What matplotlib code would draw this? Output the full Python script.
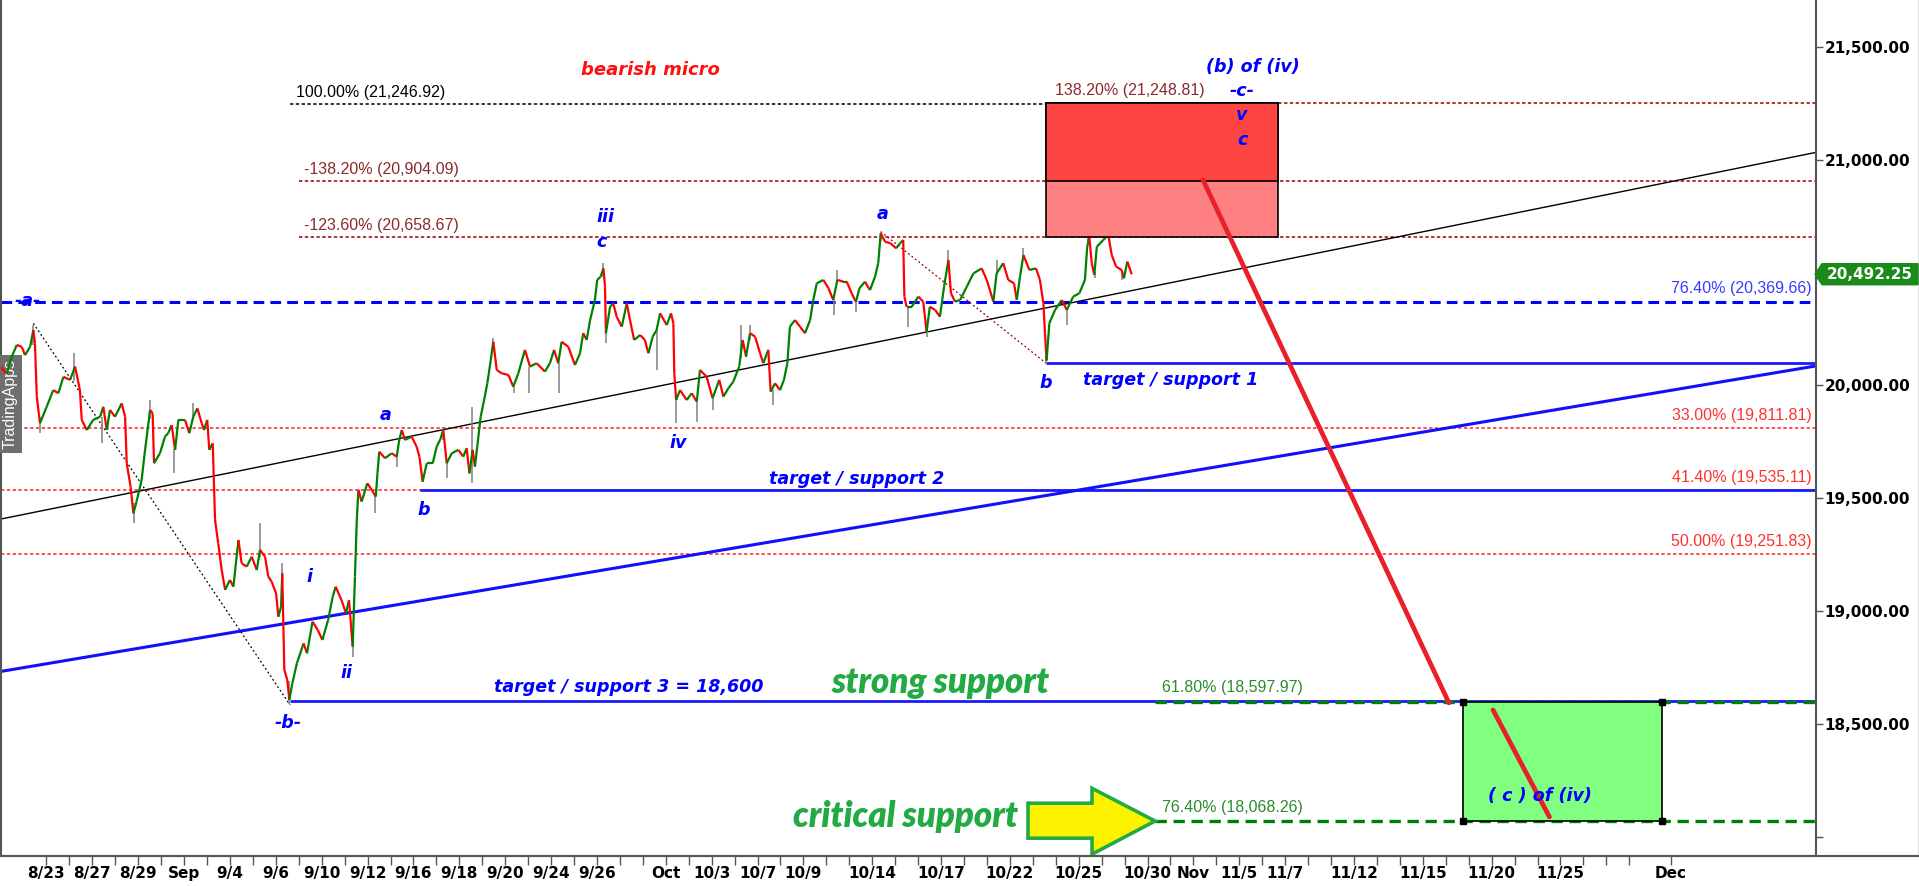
import numpy as np
import matplotlib
matplotlib.use("Agg")
import matplotlib.pyplot as plt
from matplotlib.patches import Polygon, Rectangle
from matplotlib.collections import LineCollection
from matplotlib.lines import Line2D

plt.rcParams['font.family'] = ['Liberation Sans', 'DejaVu Sans']

# price path; x is the trading-day index (0 = 8/23)
path_day = [-2.02, -1.73, -1.51, -1.29, -1.08, -0.93, -0.71, -0.57, -0.50, -0.42,
            -0.28, 0.01, 0.30, 0.52, 0.74, 1.03, 1.25, 1.46, 1.54, 1.76,
            2.04, 2.34, 2.48, 2.63, 2.77, 2.99, 3.28, 3.43, 3.50, 3.67,
            3.79, 3.93, 4.15, 4.30, 4.52, 4.63, 4.69, 4.95, 5.17, 5.31,
            5.46, 5.61, 5.75, 6.04, 6.23, 6.40, 6.58, 6.77, 6.87, 7.01,
            7.10, 7.25, 7.35, 7.49, 7.64, 7.79, 8.00, 8.15, 8.37, 8.51,
            8.73, 8.95, 9.17, 9.31, 9.53, 9.67, 9.82, 10.01, 10.11, 10.23,
            10.28, 10.37, 10.50, 10.59, 10.72, 10.92, 11.21, 11.36, 11.60, 11.83,
            12.03, 12.28, 12.48, 12.61, 12.86, 13.06, 13.19, 13.35, 13.45, 13.53,
            13.60, 13.74, 13.99, 14.18, 14.36, 14.43, 14.51, 14.76, 15.05, 15.27,
            15.38, 15.49, 15.63, 15.92, 16.14, 16.26, 16.40, 16.58, 16.84, 17.01,
            17.16, 17.30, 17.45, 17.67, 17.96, 18.17, 18.32, 18.44, 18.58, 18.68,
            18.78, 18.93, 19.08, 19.22, 19.37, 19.48, 19.63, 19.85, 20.14, 20.35,
            20.57, 20.86, 21.08, 21.37, 21.73, 21.95, 22.13, 22.31, 22.46, 22.75,
            23.04, 23.26, 23.40, 23.55, 23.70, 23.91, 24.01, 24.16, 24.28, 24.35,
            24.39, 24.57, 24.71, 24.86, 25.08, 25.30, 25.44, 25.62, 25.88, 26.09,
            26.24, 26.43, 26.60, 26.75, 27.04, 27.23, 27.33, 27.37, 27.45, 27.62,
            27.91, 28.13, 28.35, 28.49, 28.78, 29.04, 29.33, 29.51, 29.73, 29.94,
            30.20, 30.35, 30.50, 30.67, 30.89, 31.11, 31.25, 31.47, 31.57, 31.76,
            31.98, 32.15, 32.30, 32.41, 32.63, 32.85, 33.07, 33.29, 33.43, 33.58,
            33.87, 34.09, 34.30, 34.48, 34.74, 34.89, 35.10, 35.29, 35.44, 35.68,
            35.90, 36.12, 36.26, 36.37, 36.56, 36.80, 37.04, 37.21, 37.35, 37.40,
            37.50, 37.72, 38.01, 38.22, 38.37, 38.51, 38.74, 38.95, 39.13, 39.32,
            39.43, 39.61, 39.83, 40.12, 40.41, 40.77, 40.99, 41.28, 41.42, 41.71,
            41.93, 42.18, 42.30, 42.44, 42.59, 42.85, 43.14, 43.31, 43.46, 43.53,
            43.60, 43.72, 43.97, 44.26, 44.48, 44.76, 45.03, 45.27, 45.37, 45.46,
            45.57, 45.68, 45.79, 46.07, 46.29, 46.44, 46.63, 46.87, 46.97, 47.12,
            47.31]
path_px = [20083, 20053, 20127, 20179, 20171, 20134, 20171, 20245, 20186, 19950,
           19832, 19905, 19979, 19965, 20038, 20024, 20083, 19979, 19847, 19802,
           19847, 19861, 19905, 19802, 19891, 19861, 19920, 19861, 19655, 19551,
           19433, 19485, 19581, 19714, 19891, 19876, 19655, 19699, 19773, 19788,
           19824, 19714, 19847, 19847, 19788, 19861, 19898, 19832, 19802, 19847,
           19714, 19743, 19404, 19300, 19182, 19094, 19138, 19108, 19315, 19212,
           19197, 19241, 19182, 19271, 19241, 19153, 19130, 19079, 18975, 19020,
           19167, 18739, 18695, 18607, 18680, 18769, 18857, 18813, 18953, 18916,
           18872, 18961, 19064, 19108, 19049, 18990, 19049, 18843, 19153, 19404,
           19537, 19485, 19566, 19537, 19507, 19610, 19706, 19677, 19699, 19684,
           19758, 19802, 19758, 19773, 19728, 19684, 19573, 19655, 19655, 19728,
           19758, 19802, 19655, 19699, 19714, 19684, 19721, 19610, 19714, 19640,
           19728, 19861, 19935, 20009, 20112, 20193, 20068, 20053, 20046, 19994,
           20053, 20157, 20083, 20098, 20061, 20098, 20157, 20098, 20193, 20171,
           20090, 20142, 20231, 20201, 20289, 20378, 20467, 20481, 20518, 20437,
           20231, 20348, 20363, 20304, 20260, 20363, 20289, 20201, 20223, 20201,
           20142, 20216, 20245, 20319, 20267, 20319, 20275, 20053, 19935, 19979,
           19935, 19965, 19928, 20068, 20038, 19943, 20024, 19950, 19987, 20016,
           20083, 20201, 20127, 20231, 20216, 20142, 20098, 20157, 19972, 20009,
           19979, 20024, 20098, 20260, 20289, 20260, 20231, 20289, 20378, 20452,
           20467, 20430, 20378, 20467, 20459, 20459, 20408, 20370, 20430, 20459,
           20422, 20481, 20541, 20674, 20636, 20629, 20607, 20629, 20644, 20393,
           20348, 20348, 20393, 20371, 20238, 20348, 20334, 20304, 20437, 20555,
           20408, 20371, 20378, 20437, 20496, 20518, 20467, 20371, 20496, 20541,
           20467, 20452, 20378, 20481, 20577, 20511, 20518, 20467, 20363, 20231,
           20110, 20275, 20334, 20378, 20334, 20393, 20408, 20467, 20614, 20658,
           20541, 20489, 20614, 20644, 20666, 20577, 20526, 20511, 20474, 20548,
           20492]

# gray wicks: day, low, high
wick_day = [-0.57, -0.30, 1.20, 2.41, 3.80, 4.50, 5.56, 6.40, 9.31, 10.26,
            10.59, 13.35, 14.32, 15.27, 17.30, 17.45, 18.54, 19.48, 20.40, 21.05,
            22.35, 24.28, 24.39, 26.60, 27.45, 28.35, 29.04, 30.30, 30.67, 31.69,
            34.33, 34.48, 35.29, 36.37, 37.57, 38.40, 39.32, 41.42, 42.59, 43.58,
            44.48, 45.42, 45.70, 46.90]
wick_lo = [20180, 19788, 20020, 19743, 19389, 19850, 19610, 19860, 19240, 19020,
           18590, 18798, 19433, 19640, 19760, 19588, 19566, 20150, 19965, 19965,
           19965, 20480, 20186, 20068, 19832, 19839, 19891, 20120, 20200, 19913,
           20312, 20460, 20326, 20640, 20260, 20216, 20550, 20490, 20570, 20098,
           20267, 20640, 20474, 20467]
wick_hi = [20267, 19860, 20142, 19860, 19480, 19935, 19720, 19920, 19389, 19212,
           18690, 18900, 19510, 19690, 19816, 19660, 19905, 20208, 20000, 20080,
           20100, 20541, 20240, 20245, 19940, 19930, 19945, 20267, 20267, 19980,
           20380, 20511, 20370, 20681, 20350, 20240, 20600, 20555, 20607, 20140,
           20334, 20710, 20500, 20511]

last_price = 20492.25

# date axis: tick at every trading day, labels on some
tick_days = list(range(0, 70)) + [70.8]
tick_labels = {0: '8/23', 2: '8/27', 4: '8/29', 6: 'Sep', 8: '9/4', 10: '9/6',
               12: '9/10', 14: '9/12', 16: '9/16', 18: '9/18', 20: '9/20',
               22: '9/24', 24: '9/26', 27: 'Oct', 29: '10/3', 31: '10/7',
               33: '10/9', 36: '10/14', 39: '10/17', 42: '10/22', 45: '10/25',
               48: '10/30', 50: 'Nov', 52: '11/5', 54: '11/7', 57: '11/12',
               60: '11/15', 63: '11/20', 66: '11/25', 70.8: 'Dec'}
price_ticks = [18000, 18500, 19000, 19500, 20000, 20500, 21000, 21500]

# fibonacci levels
fib_upper = [(21246.92, '100.00% (21,246.92)')]
fib_ext = [(20904.09, '-138.20% (20,904.09)'), (20658.67, '-123.60% (20,658.67)')]
fib_box_top = (21248.81, '138.20% (21,248.81)')
fib_blue = (20369.66, '76.40% (20,369.66)')
fib_red = [(19811.81, '33.00% (19,811.81)'), (19535.11, '41.40% (19,535.11)'),
           (19251.83, '50.00% (19,251.83)')]
fib_green = [(18597.97, '61.80% (18,597.97)'), (18068.26, '76.40% (18,068.26)')]

support1 = 20098
support2 = 19535
support3 = 18600

# trend lines (day, price) at both chart edges
black_tl = ([-2.02, 77.14], [19407, 21032])
blue_tl = ([-2.02, 77.14], [18732, 20086])

XMIN, XMAX = -1.98, 77.14
YMIN, YMAX = 17915, 21707

BLUE = '#0000ff'
DRED = '#990000'
RED = '#ff2222'
GREEN = '#008000'
LGREEN = '#22aa44'

fig = plt.figure(figsize=(19.19, 8.86), dpi=100)
ax = fig.add_axes([1 / 1919, 30 / 886, 1815 / 1919, 856 / 886])
ax.set_xlim(XMIN, XMAX)
ax.set_ylim(YMIN, YMAX)

dot = (0, (2.2, 1.6))

# horizontal fib lines
ax.hlines(fib_upper[0][0], 10.62, 43.57, color='black', lw=1.1, linestyles=[dot])
ax.hlines(fib_box_top[0], 43.57, XMAX, color=DRED, lw=1.1, linestyles=[dot])
for v, _ in fib_ext:
    ax.hlines(v, 11.0, XMAX, color=DRED, lw=1.1, linestyles=[dot])
for v, _ in fib_red:
    ax.hlines(v, XMIN, XMAX, color=RED, lw=1.1, linestyles=[dot])
ax.hlines(fib_blue[0], XMIN, XMAX, color=BLUE, lw=2.2, linestyles=[(0, (3.5, 2.0))])

# target / support lines
ax.hlines(support1, 43.58, XMAX, color='#1a1aff', lw=2.0)
ax.hlines(support2, 16.29, XMAX, color='#1a1aff', lw=2.0)
ax.hlines(support3, 10.62, XMAX, color='#1a1aff', lw=2.0)
for v, _ in fib_green:
    ax.hlines(v, 48.33, XMAX, color=GREEN, lw=2.4, linestyles=[(0, (3.4, 2.0))], zorder=4)

# trend lines
ax.plot(*black_tl, color='black', lw=1.0)
ax.plot(*blue_tl, color='#1010ff', lw=2.2)
ax.plot([-0.57, 10.62], [20275, 18584], color='black', lw=0.9, ls=(0, (1.5, 2.0)))
ax.plot([36.37, 43.58], [20681, 20098], color=DRED, lw=0.9, ls=(0, (1.5, 2.0)))

# price path
ax.vlines(wick_day, wick_lo, wick_hi, color='#808080', lw=1.1, zorder=3)
pts = np.column_stack([path_day, path_px])
segs = np.stack([pts[:-1], pts[1:]], axis=1)
cols = [GREEN if b >= a else '#ff0000' for a, b in zip(path_px[:-1], path_px[1:])]
ax.add_collection(LineCollection(segs, colors=cols, linewidths=1.6, zorder=4))

# red target box
ax.add_patch(Rectangle((43.57, fib_ext[1][0]), 53.69 - 43.57,
                       fib_box_top[0] - fib_ext[1][0], fc='#ff8080', ec='black', lw=1.2, zorder=5))
ax.add_patch(Rectangle((43.57, fib_ext[0][0]), 53.69 - 43.57,
                       fib_box_top[0] - fib_ext[0][0], fc='#ff4444', ec='black', lw=1.2, zorder=5))

# green target box
ax.add_patch(Rectangle((61.75, fib_green[1][0]), 70.43 - 61.75,
                       fib_green[0][0] - fib_green[1][0], fc='#80ff80', ec='black', lw=1.2, zorder=5))
ax.plot([61.75, 70.43, 61.75, 70.43], [fib_green[0][0], fib_green[0][0], fib_green[1][0], fib_green[1][0]],
        ls='none', marker='s', ms=5, color='black', zorder=6)

# projected path
ax.plot([50.42, 61.14], [20910, 18593], color='#e8202a', lw=3.4, solid_capstyle='round', zorder=7)
ax.plot([63.06, 65.52], [18562, 18088], color='#e8202a', lw=3.4, solid_capstyle='round', zorder=7)

# arrow
ax.add_patch(Polygon([(42.79, 18149), (45.58, 18149), (45.58, 18215), (48.33, 18070),
                      (45.58, 17923), (45.58, 17994), (42.79, 17994)],
                     closed=True, fc='#fff200', ec=LGREEN, lw=2.6, joinstyle='miter', zorder=6))

# fib labels
fs = 11.5
ax.text(10.88, 21299, fib_upper[0][1], color='black', fontsize=fs, va='center')
for (v, s), y in zip(fib_ext, [20958, 20710]):
    ax.text(11.21, y, s, color='#8b2a2a', fontsize=fs, va='center')
ax.text(43.97, 21305, fib_box_top[1], color='#8b2a2a', fontsize=fs, va='center')
ax.text(76.97, 20431, fib_blue[1], color='#3a3aff', fontsize=fs, va='center', ha='right')
for (v, s), y in zip(fib_red, [19866, 19591, 19307]):
    ax.text(76.97, y, s, color='#ff3030', fontsize=fs, va='center', ha='right')
for (v, s), y in zip(fib_green, [18660, 18128]):
    ax.text(48.63, y, s, color='#2e8b2e', fontsize=fs, va='center')

# wave labels
wave = dict(color=BLUE, fontsize=12.6, family='DejaVu Sans', weight='bold', style='italic',
            ha='center', va='center', zorder=8)
for x, y, s in [(-0.8, 20375, '-a-'), (24.35, 20746, 'iii'), (24.22, 20635, 'c'),
                (14.80, 19869, 'a'), (16.46, 19448, 'b'), (11.45, 19151, 'i'),
                (13.06, 18726, 'ii'), (10.53, 18504, '-b-'), (27.53, 19744, 'iv'),
                (36.43, 20759, 'a'), (43.57, 20010, 'b'), (49.0, 20024, 'target / support 1'),
                (52.58, 21410, '(b) of (iv)'), (52.12, 21304, '-c-'), (52.12, 21197, 'v'),
                (52.12, 21087, 'c'), (35.34, 19585, 'target / support 2'),
                (25.40, 18664, 'target / support 3 = 18,600'), (65.11, 18181, '( c ) of (iv)')]:
    ax.text(x, y, s, **wave)

ax.text(26.31, 21397, 'bearish micro', color='#ff1010', fontsize=13, family='DejaVu Sans',
        weight='bold', style='italic', ha='center', va='center')
big = dict(color=LGREEN, fontsize=25, family='Lato', weight='heavy', style='italic',
           ha='center', va='center')
ax.text(39.0, 18682, 'strong support', **big)
ax.text(37.43, 18088, 'critical support', **big)

# watermark
ax.text(0.0052, 0.528, 'TradingApps', transform=ax.transAxes, rotation=90, color='white',
        fontsize=11.5, ha='center', va='center',
        bbox=dict(boxstyle='square,pad=0.25', fc='#6e6e6e', ec='none'))

# axes styling
ax.spines['top'].set_visible(False)
for side in ['left', 'right', 'bottom']:
    ax.spines[side].set_color('#555555')
    ax.spines[side].set_linewidth(1.5)
ax.yaxis.tick_right()
ax.set_yticks(price_ticks)
ax.set_yticklabels(['' if v == 18000 else f'{v:,.2f}' for v in price_ticks])
ax.set_xticks(tick_days)
ax.set_xticklabels([tick_labels.get(d, '') for d in tick_days])
ax.tick_params(axis='y', length=5, width=1, color='#555555', pad=1, labelsize=11)
ax.tick_params(axis='x', length=6.5, width=1, color='#555555', pad=0.5, labelsize=11)
for lab in ax.get_xticklabels() + ax.get_yticklabels():
    lab.set_family('DejaVu Sans')
    lab.set_fontweight('bold')

# last price badge
yd = ax.transData.transform((0, last_price))[1] / 886
h = 10.5 / 886
x0, x1, x2 = 1815 / 1919, 1822 / 1919, 1918 / 1919
fig.add_artist(Polygon([(x0, yd), (x1, yd + h), (x2, yd + h), (x2, yd - h), (x1, yd - h)],
                       closed=True, transform=fig.transFigure, fc='#1a8a1a', ec='#1a8a1a'))
fig.text((x1 + x2) / 2, yd, f'{last_price:,.2f}', color='white', fontsize=11,
         family='DejaVu Sans', weight='bold', ha='center', va='center')
fig.add_artist(Line2D([0, 1], [30 / 886, 30 / 886], transform=fig.transFigure, color='#555555', lw=1.5))
fig.add_artist(Line2D([1918.5 / 1919] * 2, [30 / 886, 1], transform=fig.transFigure, color='#555555', lw=1))

fig.savefig('out.png', dpi=100)
